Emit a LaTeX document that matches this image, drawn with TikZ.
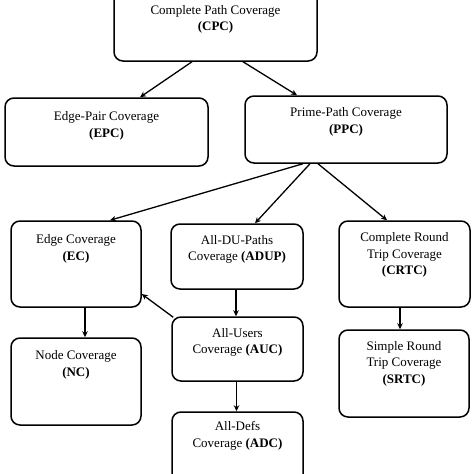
\documentclass[tikz,border=0pt]{standalone}
\usepackage{fontspec}
\setmainfont{Liberation Serif}
\usetikzlibrary{arrows.meta}
\begin{document}
\begin{tikzpicture}[x=1pt,y=-1pt,
  box/.style={draw=black,line width=1.5pt,rounded corners=9pt,inner sep=0pt,fill=white},
  txt/.style={align=center,inner sep=0pt,font=\fontsize{13}{16.5}\selectfont},
  arr/.style={line width=1.3pt,-{Stealth[length=6pt,width=5.5pt]}}]
\useasboundingbox (0,0) rectangle (474,474);
\clip (0,0) rectangle (474,474);
% boxes
\node[box,minimum width=203pt,minimum height=78pt] (cpc) at (215.5,22) {};
\node[box,minimum width=203pt,minimum height=68pt] (epc) at (106.5,132) {};
\node[box,minimum width=202pt,minimum height=67pt] (ppc) at (346,129.5) {};
\node[box,minimum width=130pt,minimum height=86pt] (ec) at (76,264) {};
\node[box,minimum width=132pt,minimum height=65pt] (adup) at (237,256.5) {};
\node[box,minimum width=131pt,minimum height=86pt] (crtc) at (404.5,264) {};
\node[box,minimum width=131pt,minimum height=64pt] (auc) at (237.5,349) {};
\node[box,minimum width=130pt,minimum height=87pt] (nc) at (76,381.5) {};
\node[box,minimum width=130pt,minimum height=87pt] (srtc) at (404,373.5) {};
\node[box,minimum width=131pt,minimum height=76pt] (adc) at (237.5,450) {};
% texts
\node[txt] (tcpc) at (215.5,19.5) {Complete Path Coverage\\\textbf{(CPC)}};
\node[txt] (tepc) at (106.5,126) {Edge-Pair Coverage\\\textbf{(EPC)}};
\node[txt] (tppc) at (346,122) {Prime-Path Coverage\\\textbf{(PPC)}};
\node[txt] (tec) at (76,249) {Edge Coverage\\\textbf{(EC)}};
\node[txt] (tadup) at (237,249.5) {All-DU-Paths\\Coverage \textbf{(ADUP)}};
\node[txt] (tcrtc) at (404.5,255) {Complete Round\\Trip Coverage\\\textbf{(CRTC)}};
\node[txt] (tauc) at (237.5,342.5) {All-Users\\Coverage \textbf{(AUC)}};
\node[txt] (tnc) at (76,365) {Node Coverage\\\textbf{(NC)}};
\node[txt] (tsrtc) at (404,363.5) {Simple Round\\Trip Coverage\\\textbf{(SRTC)}};
\node[txt] (tadc) at (237.5,436) {All-Defs\\Coverage \textbf{(ADC)}};
% arrows
\draw[arr] ([xshift=-23.5pt]cpc.south) -- ([xshift=33.5pt]epc.north);
\draw[arr] ([xshift=27.5pt]cpc.south) -- ([xshift=-49pt]ppc.north);
\draw[arr] ([xshift=-43pt]ppc.south) -- ([xshift=34pt]ec.north);
\draw[arr] ([xshift=-36pt]ppc.south) -- ([xshift=18pt]adup.north);
\draw[arr] ([xshift=-28pt]ppc.south) -- ([xshift=-17.5pt]crtc.north);
\draw[arr] ([xshift=-1pt]adup.south) -- ([xshift=-1.5pt]auc.north);
\draw[arr] ([xshift=2pt,yshift=-1pt]auc.north west) -- ([yshift=-30pt]ec.east);
\draw[arr] ([xshift=9pt]ec.south) -- ([xshift=9pt]nc.north);
\draw[arr] ([xshift=-4.5pt]crtc.south) -- ([xshift=-4pt]srtc.north);
\draw[arr] ([xshift=-1pt]auc.south) -- ([xshift=-1pt]adc.north);
\end{tikzpicture}
\end{document}
